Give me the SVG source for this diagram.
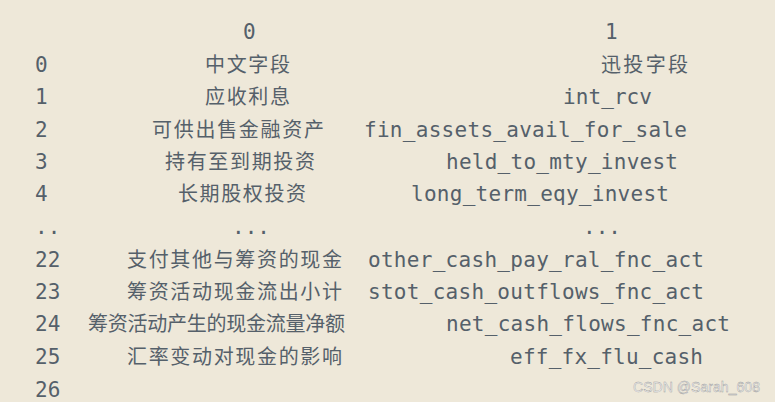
<svg xmlns="http://www.w3.org/2000/svg" width="775" height="402" viewBox="0 0 775 402">
<style>
.m{font-family:"DejaVu Sans Mono","Liberation Mono",monospace;font-size:21px;fill:#55606a}
.c{font-family:"Noto Sans CJK SC","Noto Sans",sans-serif;font-size:20px;fill:#55606a}
.w{font-family:"Liberation Sans",sans-serif;font-size:14px;fill:#f4f4f4;stroke:#9a9a9a;stroke-width:0.4}
</style>
<rect width="775" height="402" fill="#eee8d9"/>
<text class="m" x="243" y="39">0</text>
<text class="m" x="605" y="39">1</text>
<g class="m">
<text x="35" y="72">0</text><text x="35" y="104">1</text><text x="35" y="137">2</text><text x="35" y="169">3</text><text x="35" y="201">4</text><text x="35" y="234">..</text><text x="35" y="267">22</text><text x="35" y="299">23</text><text x="35" y="331">24</text><text x="35" y="364">25</text><text x="35" y="397">26</text>
<text x="563" y="104" textLength="89">int_rcv</text>
<text x="364" y="137" textLength="323">fin_assets_avail_for_sale</text>
<text x="446" y="169" textLength="232">held_to_mty_invest</text>
<text x="411" y="201" textLength="258">long_term_eqy_invest</text>
<text x="232" y="234">...</text><text x="583" y="234">...</text>
<text x="368" y="267" textLength="336">other_cash_pay_ral_fnc_act</text>
<text x="368" y="299" textLength="336">stot_cash_outflows_fnc_act</text>
<text x="446" y="331" textLength="284">net_cash_flows_fnc_act</text>
<text x="510" y="364" textLength="193">eff_fx_flu_cash</text>
</g>
<g class="c">
<text x="205" y="72" textLength="85">中文字段</text><text x="601" y="72" textLength="87">迅投字段</text>
<text x="205" y="104" textLength="85">应收利息</text>
<text x="152" y="137" textLength="172">可供出售金融资产</text>
<text x="165" y="169" textLength="150">持有至到期投资</text>
<text x="178" y="201" textLength="128">长期股权投资</text>
<text x="127" y="267" textLength="215">支付其他与筹资的现金</text>
<text x="127" y="299" textLength="215">筹资活动现金流出小计</text>
<text x="88" y="331" textLength="257">筹资活动产生的现金流量净额</text>
<text x="127" y="364" textLength="215">汇率变动对现金的影响</text>
</g>
<text class="w" x="633" y="392" textLength="127">CSDN @Sarah_608</text>
</svg>
